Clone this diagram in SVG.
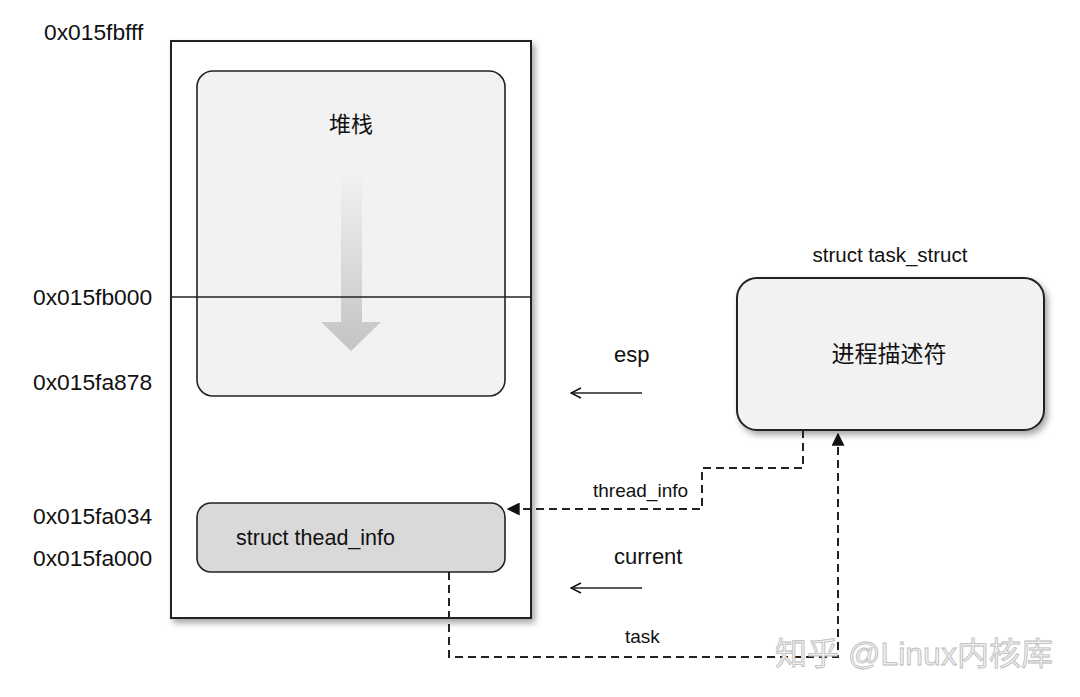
<svg xmlns="http://www.w3.org/2000/svg" width="1080" height="697" viewBox="0 0 1080 697">
<style>
text{font-family:"Liberation Sans","Noto Sans CJK SC",sans-serif;fill:#111}
.addr{font-size:22.8px}
.dash{fill:none;stroke:#222;stroke-width:2;stroke-dasharray:8,5}
.plain{fill:none;stroke:#222;stroke-width:1.6}
</style>
<defs>
<filter id="sh" x="-10%" y="-10%" width="130%" height="130%"><feDropShadow dx="3" dy="4" stdDeviation="3" flood-color="#000" flood-opacity="0.35"/></filter>
<linearGradient id="ag" x1="0" y1="0" x2="0" y2="1"><stop offset="0" stop-color="#f2f2f2"/><stop offset="1" stop-color="#c4c4c4"/></linearGradient>
<marker id="fa" viewBox="0 0 10 10" refX="9" refY="5" markerWidth="15" markerHeight="13" markerUnits="userSpaceOnUse" orient="auto"><path d="M0,0L10,5L0,10z" fill="#111"/></marker>
<marker id="oa" viewBox="0 0 12 12" refX="11" refY="6" markerWidth="12" markerHeight="12" markerUnits="userSpaceOnUse" orient="auto"><path d="M1,1L11,6L1,11" fill="none" stroke="#111" stroke-width="1.5"/></marker>
</defs>
<rect width="1080" height="697" fill="#fff"/>
<g id="memory">
<rect x="171" y="41" width="360" height="577" fill="#fff" stroke="#222" stroke-width="2" filter="url(#sh)"/>
</g>
<g id="stack">
<rect x="197" y="71" width="308" height="325" rx="16" fill="#f2f2f2" stroke="#222" stroke-width="1.6"/>
<text x="351" y="132" font-size="22" text-anchor="middle">堆栈</text>
<path d="M341,170H362V322H381L351,351L321,322H341Z" fill="url(#ag)"/>
</g>
<line x1="171" y1="297" x2="531" y2="297" class="plain"/>
<g id="thread_info">
<rect x="197" y="503" width="308" height="69" rx="14" fill="#d9d9d9" stroke="#222" stroke-width="1.6"/>
<text x="236" y="545" font-size="21.5">struct thead_info</text>
</g>
<g id="task_struct">
<text x="890" y="262" font-size="20.5" text-anchor="middle">struct task_struct</text>
<rect x="737" y="278" width="307" height="152" rx="20" fill="#f2f2f2" stroke="#222" stroke-width="2" filter="url(#sh)"/>
<text x="889" y="362" font-size="23" text-anchor="middle">进程描述符</text>
</g>
<g id="labels">
<text x="44" y="40" class="addr">0x015fbfff</text>
<text x="33" y="305" class="addr">0x015fb000</text>
<text x="33" y="390" class="addr">0x015fa878</text>
<text x="33" y="524" class="addr">0x015fa034</text>
<text x="33" y="566" class="addr">0x015fa000</text>
<text x="614" y="362" font-size="22">esp</text>
<text x="614" y="564" font-size="22">current</text>
<text x="593" y="497" font-size="19">thread_info</text>
<text x="625" y="643" font-size="19">task</text>
</g>
<g id="connectors">
<path class="dash" d="M803,430V468H702V509H508" marker-end="url(#fa)"/>
<path class="dash" d="M449,572V657H838V434" marker-end="url(#fa)"/>
<line class="plain" x1="642" y1="393" x2="571" y2="393" marker-end="url(#oa)"/>
<line class="plain" x1="642" y1="588" x2="571" y2="588" marker-end="url(#oa)"/>
</g>
<text x="775" y="665" font-size="32" stroke="#bbb" stroke-width="0.8" style="fill:#f0f0f0">知乎 @Linux内核库</text>
</svg>
